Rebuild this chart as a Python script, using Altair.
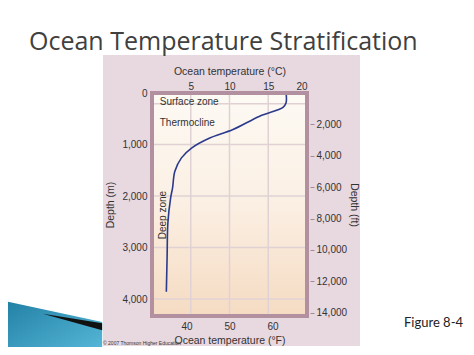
import altair as alt
import pandas as pd

# ---- values ----
depth_m = [0, 190, 280, 450, 710, 875, 1070, 1260, 1520, 1845, 2040, 2520, 3180, 3860]
temp_c = [17.3, 17.3, 16.9, 13.9, 10.45, 7.45, 5.1, 3.8, 2.95, 2.65, 2.4, 2.05, 1.95, 1.85]

c_domain = [0, 20]
m_domain = [0, 4330]
c_ticks = [5, 10, 15, 20]
f_ticks = [40, 50, 60]
m_ticks = [0, 1000, 2000, 3000, 4000]
ft_ticks = [2000, 4000, 6000, 8000, 10000, 12000, 14000]
surface_base_m = [210]

flat_labels = ["Surface zone", "Thermocline"]
flat_x_c = [1.0, 1.0]
flat_y_m = [175, 580]
deep_label = ["Deep zone"]
deep_x_c = [1.4]
deep_y_m = [2370]

slide_title = "Ocean Temperature Stratification"
figure_label = "Figure 8-4"
credit = "\u00a9 2007 Thomson Higher Education"

f_domain = [c * 9 / 5 + 32 for c in c_domain]
ft_domain = [m * 3.28084 for m in m_domain]

FONT = "Liberation Sans"
TXT = "#333333"
GRID = "#e0d2d4"
FRAME = "#b3909f"

common_axis = dict(zindex=2, grid=False, domain=False,
                   labelFont=FONT, labelFontSize=10, labelColor=TXT,
                   titleFont=FONT, titleFontSize=10.5, titleFontWeight="normal",
                   titleColor=TXT)

xs = alt.Scale(domain=c_domain, nice=False, zero=False)
ys = alt.Scale(domain=m_domain, nice=False, zero=False, reverse=True)
ax_c = alt.Axis(orient="top", values=c_ticks, title="Ocean temperature (\u00b0C)",
                ticks=False, labelPadding=2, titlePadding=5, **common_axis)
ax_m = alt.Axis(orient="left", values=m_ticks, format=",.0f", title="Depth (m)",
                ticks=False, labelPadding=5, titlePadding=6, **common_axis)
ax_f = alt.Axis(orient="bottom", values=f_ticks, title="Ocean temperature (\u00b0F)",
                ticks=False, labelPadding=5, titlePadding=4, **common_axis)
ax_ft = alt.Axis(orient="right", values=ft_ticks, format=",.0f", title="Depth (ft)",
                 offset=3, ticks=True, tickSize=4, tickColor="#a08a98",
                 labelPadding=2, titlePadding=2, **common_axis)

one = pd.DataFrame({"k": [0]})
dom = pd.DataFrame({"x0": [c_domain[0]], "x1": [c_domain[1]],
                    "y0": [m_domain[0]], "y1": [m_domain[1]]})

panel = alt.Chart(one).mark_rect(fill="#e8d8e0").encode(
    x=alt.value(-49), x2=alt.value(208), y=alt.value(-38), y2=alt.value(253))

swoosh = alt.Chart(one).mark_point(
    shape="M-0.93,-0.49 L0.93,-0.09 L0.93,0.6 L-0.93,0.6 Z",
    filled=True, opacity=1, strokeWidth=0, size=12100,
    fill=alt.LinearGradient(gradient="linear", x1=0, y1=0, x2=1, y2=1,
                            stops=[alt.GradientStop(offset=0, color="#1f7ea3"),
                                   alt.GradientStop(offset=1, color="#5cbcdc")]),
).encode(x=alt.value(-101), y=alt.value(234))

shadow = alt.Chart(one).mark_point(
    shape="M-0.15,-0.24 L0.93,-0.07 L0.93,0.06 Z",
    filled=True, opacity=1, strokeWidth=0, size=12100, fill="#111111",
).encode(x=alt.value(-101), y=alt.value(234))

bg = alt.Chart(dom).mark_rect(
    fill=alt.LinearGradient(gradient="linear", x1=0, y1=0, x2=0, y2=1,
                            stops=[alt.GradientStop(offset=0, color="#fdfaf4"),
                                   alt.GradientStop(offset=0.5, color="#fbefe3"),
                                   alt.GradientStop(offset=1, color="#f5dbc2")]),
).encode(x=alt.X("x0:Q", scale=xs, axis=ax_c), x2="x1:Q",
         y=alt.Y("y0:Q", scale=ys, axis=ax_m), y2="y1:Q")

grid_x = alt.Chart(pd.DataFrame({"c": c_ticks[:-1]})).mark_rule(
    color=GRID, strokeWidth=1.5).encode(x=alt.X("c:Q", scale=xs, axis=ax_c))
grid_y = alt.Chart(pd.DataFrame({"m": m_ticks[1:] + surface_base_m})).mark_rule(
    color=GRID, strokeWidth=1.5).encode(y=alt.Y("m:Q", scale=ys, axis=ax_m))

line = alt.Chart(pd.DataFrame({"t": temp_c, "d": depth_m})).mark_line(
    color="#2b3a8c", strokeWidth=1.6, interpolate="catmull-rom").encode(
    x=alt.X("t:Q", scale=xs, axis=ax_c),
    y=alt.Y("d:Q", scale=ys, axis=ax_m),
    order="d:Q")

frame = alt.Chart(dom).mark_rect(filled=False, stroke=FRAME, strokeWidth=4).encode(
    x=alt.X("x0:Q", scale=xs, axis=ax_c), x2="x1:Q",
    y=alt.Y("y0:Q", scale=ys, axis=ax_m), y2="y1:Q")

flat_txt = alt.Chart(pd.DataFrame({"l": flat_labels, "x": flat_x_c, "y": flat_y_m})).mark_text(
    align="left", baseline="middle", font=FONT, fontSize=10, color=TXT).encode(
    x=alt.X("x:Q", scale=xs, axis=ax_c), y=alt.Y("y:Q", scale=ys, axis=ax_m), text="l:N")

deep_txt = alt.Chart(pd.DataFrame({"l": deep_label, "x": deep_x_c, "y": deep_y_m})).mark_text(
    align="center", baseline="middle", angle=270, font=FONT, fontSize=10, color=TXT).encode(
    x=alt.X("x:Q", scale=xs, axis=ax_c), y=alt.Y("y:Q", scale=ys, axis=ax_m), text="l:N")

title_txt = alt.Chart(one).mark_text(
    text=slide_title, align="left", baseline="alphabetic", font="Open Sans",
    fontSize=25, color="#404040").encode(x=alt.value(-123), y=alt.value(-43))

fig_txt = alt.Chart(one).mark_text(
    text=figure_label, align="left", baseline="alphabetic", font="Lato",
    fontSize=13, color="#222222").encode(x=alt.value(252), y=alt.value(234))

credit_txt = alt.Chart(one).mark_text(
    text=credit, align="left", baseline="alphabetic", font=FONT,
    fontSize=5, color="#333333").encode(x=alt.value(-49), y=alt.value(252))

main = alt.layer(panel, swoosh, shadow, bg, grid_x, grid_y, line, frame,
                 flat_txt, deep_txt, title_txt, fig_txt, credit_txt)

sec = alt.Chart(pd.DataFrame({"f": f_domain, "ft": ft_domain})).mark_point(opacity=0).encode(
    x=alt.X("f:Q", scale=alt.Scale(domain=f_domain, nice=False, zero=False), axis=ax_f),
    y=alt.Y("ft:Q", scale=alt.Scale(domain=ft_domain, nice=False, zero=False, reverse=True),
            axis=ax_ft),
)

chart = alt.layer(main, sec).resolve_scale(x="independent", y="independent").properties(
    width=155, height=223,
    autosize=alt.AutoSizeParams(type="none"),
    padding={"left": 144, "top": 85, "right": 159, "bottom": 31},
    background="white",
).configure_view(stroke="transparent")

chart.save("out.html", embed_options={"renderer": "svg", "actions": False})
